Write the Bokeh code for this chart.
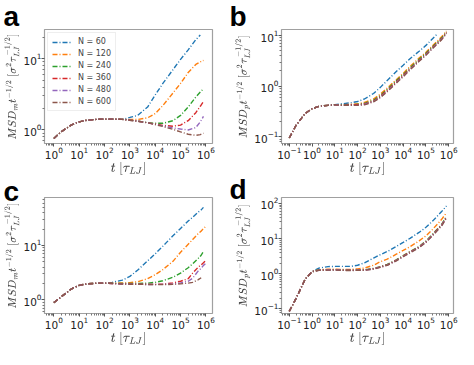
import numpy as np
from bokeh.plotting import figure
from bokeh.layouts import column, row
from bokeh.models import Legend, LegendItem, FixedTicker
from bokeh.embed import file_html
from bokeh.resources import INLINE

nan = float("nan")
series_names = ["N = 60", "N = 120", "N = 240", "N = 360", "N = 480", "N = 600"]
colors = ["#1f77b4", "#ff7f0e", "#2ca02c", "#d62728", "#9467bd", "#8c564b"]

# ---------- panel a : MSD_m, 10^0..10^6 ----------
a_t = [1, 2, 5, 10, 20, 50, 1e2, 2e2, 5e2, 1e3, 2e3, 5e3, 1e4, 2e4, 5e4, 1e5, 2e5, 4e5, 6e5, 8e5]
a_early = [0.76, 0.95, 1.18, 1.30, 1.37, 1.41, 1.42, 1.42, 1.41]
a_n60 = a_early + [1.50, 1.60, 2.10, 3.10, 4.50, 7.00, 9.80, 13.3, 18.5, 21.5, nan]
a_n120 = a_early + [1.40, 1.40, 1.48, 1.70, 2.20, 3.30, 4.50, 6.40, 8.30, 9.00, 9.50]
a_n240 = a_early + [1.37, 1.33, 1.27, 1.24, 1.24, 1.35, 1.60, 2.10, 2.90, 3.40, 3.80]
a_n360 = a_early + [1.37, 1.33, 1.26, 1.21, 1.16, 1.13, 1.17, 1.35, 1.75, 2.15, 2.50]
a_n480 = a_early + [1.37, 1.33, 1.26, 1.20, 1.14, 1.07, 1.03, 1.00, 1.08, 1.30, 1.55]
a_n600 = a_early + [1.37, 1.33, 1.26, 1.19, 1.12, 1.02, 0.94, 0.87, 0.84, 0.86, 0.90]

# ---------- panel b : MSD_p, 10^-1..10^6 ----------
b_t = [0.1, 0.2, 0.5, 1, 2, 5, 10, 20, 50, 1e2, 2e2, 5e2, 1e3, 2e3, 5e3, 1e4, 2e4, 5e4, 1e5, 2e5, 3.3e5, 5e5, 8e5]
b_early = [0.095, 0.17, 0.29, 0.36, 0.40, 0.42, 0.43]
b_n60 = b_early + [0.45, 0.47, 0.50, 0.56, 0.72, 0.95, 1.30, 1.95, 2.60, 3.50, 4.90, 6.40, 8.80, 11.0, nan, nan]
b_n120 = b_early + [0.43, 0.44, 0.45, 0.48, 0.56, 0.70, 0.92, 1.35, 1.80, 2.45, 3.60, 4.70, 6.40, 7.90, 9.60, 12.3]
b_n240 = b_early + [0.43, 0.43, 0.44, 0.46, 0.53, 0.66, 0.87, 1.28, 1.70, 2.30, 3.40, 4.50, 6.10, 7.50, 9.10, 11.8]
b_n360 = b_early + [0.42, 0.43, 0.43, 0.45, 0.51, 0.63, 0.83, 1.22, 1.63, 2.20, 3.25, 4.30, 5.90, 7.30, 8.80, 11.5]
b_n480 = b_early + [0.42, 0.42, 0.42, 0.44, 0.50, 0.61, 0.80, 1.18, 1.58, 2.15, 3.15, 4.20, 5.70, 7.10, 8.60, 11.2]
b_n600 = b_early + [0.42, 0.42, 0.42, 0.43, 0.49, 0.60, 0.78, 1.15, 1.54, 2.10, 3.10, 4.10, 5.60, 6.90, 8.40, 11.0]

# ---------- panel c : MSD_m, 10^0..10^6 ----------
c_t = [1, 2, 5, 10, 20, 50, 1e2, 2e2, 5e2, 1e3, 2e3, 5e3, 1e4, 2e4, 5e4, 1e5, 2e5, 3e5, 5e5, 6.5e5, 8e5, 1e6]
c_early = [0.89, 1.15, 1.60, 1.85, 1.97, 2.02, 2.03]
c_n60 = c_early + [2.10, 2.30, 2.70, 3.50, 5.20, 7.00, 9.70, 15.0, 20.5, 28.0, 33.0, 41.0, 45.0, 50.0, nan]
c_n120 = c_early + [2.03, 2.04, 2.07, 2.15, 2.45, 2.90, 3.60, 5.10, 7.50, 10.5, 12.8, 16.5, 18.3, 20.5, 22.4]
c_n240 = c_early + [2.02, 2.00, 2.00, 2.00, 2.03, 2.10, 2.25, 2.60, 3.10, 3.90, 4.60, 5.80, 6.60, 7.80, nan]
c_n360 = c_early + [2.00, 1.97, 1.95, 1.94, 1.93, 1.93, 1.95, 2.05, 2.20, 2.45, 3.10, 4.00, 4.40, 4.80, 5.30]
c_n480 = c_early + [2.00, 1.96, 1.94, 1.93, 1.92, 1.92, 1.93, 1.97, 2.05, 2.20, 2.50, 3.40, 3.80, 4.30, 4.70]
c_n600 = c_early + [2.00, 1.96, 1.94, 1.93, 1.92, 1.91, 1.91, 1.93, 1.97, 2.03, 2.10, 2.35, 2.55, nan, nan]

# ---------- panel d : MSD_p, 10^-1..10^6 ----------
d_t = [0.1, 0.2, 0.5, 1, 2, 5, 10, 20, 50, 1e2, 2e2, 5e2, 1e3, 2e3, 5e3, 1e4, 2e4, 5e4, 1e5, 2e5, 5e5, 8e5]
d_early = [0.085, 0.20, 0.70, 1.15]
d_n60 = d_early + [1.45, 1.60, 1.62, 1.62, 1.62, 1.75, 2.05, 2.80, 3.50, 4.30, 6.00, 7.80, 10.2, 15.0, 21.0, 32.0, 60.0, 85.0]
d_n120 = d_early + [1.30, 1.35, 1.35, 1.33, 1.33, 1.38, 1.45, 1.75, 2.20, 2.60, 3.60, 4.60, 5.90, 8.60, 12.0, 18.5, 36.0, 55.0]
d_n240 = d_early + [1.28, 1.30, 1.30, 1.28, 1.27, 1.28, 1.30, 1.42, 1.60, 1.85, 2.50, 3.30, 4.30, 6.00, 8.50, 13.5, 26.0, 43.0]
d_n360 = d_early + [1.27, 1.29, 1.29, 1.27, 1.26, 1.27, 1.28, 1.40, 1.57, 1.80, 2.43, 3.20, 4.15, 5.80, 8.20, 13.0, 25.0, 41.0]
d_n480 = d_early + [1.26, 1.28, 1.28, 1.26, 1.25, 1.26, 1.27, 1.38, 1.54, 1.77, 2.38, 3.10, 4.05, 5.65, 8.00, 12.6, 24.3, 40.0]
d_n600 = d_early + [1.25, 1.27, 1.27, 1.25, 1.24, 1.25, 1.26, 1.36, 1.52, 1.74, 2.33, 3.05, 3.95, 5.50, 7.80, 12.3, 23.6, 39.0]

ticks_x0 = [1e0, 1e1, 1e2, 1e3, 1e4, 1e5, 1e6]
ticks_xm1 = [1e-1] + ticks_x0
ticks_y_a = [1e0, 1e1]
ticks_y_b = [1e-1, 1e0, 1e1]
ticks_y_c = [1e0, 1e1]
ticks_y_d = [1e-1, 1e0, 1e1, 1e2]

xlabel = r"$$t\ [\tau_{LJ}]$$"
ylabel_m = r"$$MSD_m t^{-1/2}\ [\sigma^2 \tau_{LJ}^{-1/2}]$$"
ylabel_p = r"$$MSD_p t^{-1/2}\ [\sigma^2 \tau_{LJ}^{-1/2}]$$"


def minors(lo, hi):
    out = []
    for e in range(lo, hi + 1):
        for m in range(2, 10):
            out.append(m * 10.0 ** e)
    return out


def make(w, h, xr, yr, xt, yt, bl, br, bt, bb, letter, ys, t, ylab, legend=False):
    p = figure(width=w, height=h, x_axis_type="log", y_axis_type="log",
               x_range=xr, y_range=yr, output_backend="svg", toolbar_location=None,
               min_border_left=bl, min_border_right=br, min_border_top=0, min_border_bottom=bb,
               title=letter)
    p.title.text_font = "Liberation Sans"
    p.title.text_font_style = "bold"
    p.title.text_font_size = "28px"
    p.title.align = "left"
    p.title.offset = -bl
    p.title.vertical_align = "bottom"
    p.title.standoff = round(bt - 24)
    p.title.text_color = "black"
    p.grid.visible = False
    p.outline_line_color = "#a0a0a0"
    p.outline_line_width = 1.2
    p.background_fill_color = "white"
    p.border_fill_color = "white"
    p.xaxis.ticker = FixedTicker(ticks=xt, minor_ticks=minors(-2, 6))
    p.yaxis.ticker = FixedTicker(ticks=yt, minor_ticks=minors(-2, 2))
    for ax in (p.xaxis[0], p.yaxis[0]):
        ax.axis_line_color = None
        ax.major_tick_line_color = "#555555"
        ax.minor_tick_line_color = "#777777"
        ax.major_tick_out = 3
        ax.major_tick_in = 0
        ax.minor_tick_out = 2
        ax.minor_tick_in = 0
        ax.major_label_text_font = "DejaVu Sans"
        ax.major_label_text_font_size = "10.5px"
        ax.major_label_text_color = "#222222"
        ax.major_label_standoff = 0
        ax.axis_label_text_font_style = "normal"
    p.xaxis.axis_label_standoff = 0
    p.yaxis.axis_label_standoff = 1
    p.xaxis.axis_label_text_font_size = "11.5px"
    p.yaxis.axis_label_text_font_size = "9.5px"
    p.xaxis.axis_label = xlabel
    p.yaxis.axis_label = ylab
    items = []
    for name, col, yv in zip(series_names, colors, ys):
        r = p.line(t, yv, line_color=col, line_width=1.4, line_dash="5 2 1 2")
        items.append(LegendItem(label=name, renderers=[r]))
    if legend:
        lg = Legend(items=items, location="top_left", label_text_font_size="8px",
                    label_text_font="DejaVu Sans", label_height=8, glyph_height=8,
                    glyph_width=20, spacing=3, padding=4, margin=3,
                    border_line_color="#dddddd", background_fill_alpha=1.0,
                    label_standoff=6)
        p.add_layout(lg)
    return p


pa = make(229, 178, (10 ** -0.37, 10 ** 6.26), (10 ** -0.19, 10 ** 1.41), ticks_x0, ticks_y_a,
          41, 17, 20, 31, "a", [a_n60, a_n120, a_n240, a_n360, a_n480, a_n600], a_t, ylabel_m, legend=True)
pb = make(229, 178, (10 ** -1.34, 10 ** 6.21), (10 ** -1.13, 10 ** 1.12), ticks_xm1, ticks_y_b,
          52, 5, 20, 31, "b", [b_n60, b_n120, b_n240, b_n360, b_n480, b_n600], b_t, ylabel_p)
pc = make(229, 171, (10 ** -0.37, 10 ** 6.26), (10 ** -0.25, 10 ** 1.88), ticks_x0, ticks_y_c,
          41, 17, 6, 27, "c", [c_n60, c_n120, c_n240, c_n360, c_n480, c_n600], c_t, ylabel_m)
pd = make(229, 171, (10 ** -1.34, 10 ** 6.21), (10 ** -1.13, 10 ** 2.17), ticks_xm1, ticks_y_d,
          52, 5, 10, 36, "d", [d_n60, d_n120, d_n240, d_n360, d_n480, d_n600], d_t, ylabel_p)

layout = column(row(pa, pb), row(pc, pd))
open("out.html", "w").write(file_html(layout, INLINE))
